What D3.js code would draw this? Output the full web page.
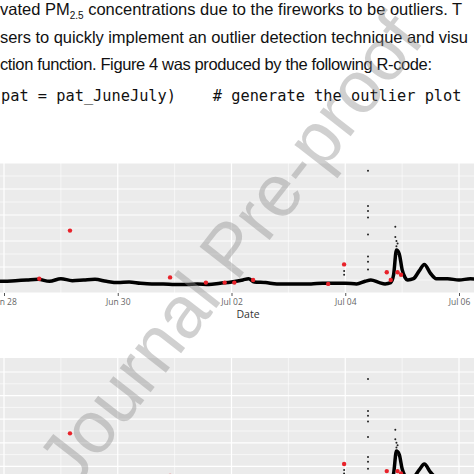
<!DOCTYPE html>
<html><head><meta charset="utf-8">
<script src="https://d3js.org/d3.v7.min.js"></script>
<style>body{margin:0;background:#fff}svg{display:block}</style></head>
<body><svg id="c" width="474" height="474"></svg>
<script>
// time in days since Jun 28 00:00, PM2.5 values
const seriesDays = [-0.2,0,0.2,0.4,0.6,0.8,1.0,1.2,1.4,1.6,1.8,2.0,2.2,2.4,2.6,2.8,3.0,3.2,3.4,3.6,3.8,4.0,4.2,4.3,4.4,4.6,4.8,5.0,5.2,5.4,5.6,5.8,6.0,6.2,6.35,6.45,6.6,6.7,6.8,6.85,6.9,6.95,7.0,7.05,7.1,7.2,7.3,7.39,7.5,7.6,7.8,8.0,8.2,8.4];
const seriesVals = [9,9,9.5,10,10.5,9,11,9.5,10,10.5,9,8,8.5,7.5,7,7,6.5,6.5,7,6.5,7.5,8.5,10,11,8.5,8,7,7,7,7,7.5,7.5,7.5,7,9,10,8,7,8,14,33,30,18,12,10,11,17,22,15,11,11,10,11,10];
const spikeDays = [6.4,6.4,6.4,6.4,6.4,6.4,6.4,6.4,6.88,6.88,6.9,6.9,6.92,6.92,5.98,5.98];
const spikeVals = [94,67,63,58,45,28,24,18,51,43,40,36,38,30,17,14];
const outDays = [1.16,0.62,2.92,3.55,3.88,4.05,4.38,5.7,5.98,6.73,6.8,6.92,6.98];
const outVals = [48,11,12,8,8,8,10,7,22,16,10,16,14];
const tickDays = [0,2,4,6,8];
const tickLabels = ["Jun 28","Jun 30","Jul 02","Jul 04","Jul 06"];
const textLines = ["vated PM","sers to quickly implement an outlier detection technique and visu","ction function. Figure 4 was produced by the following R-code:"];

const svg = d3.select("#c");
const x = d3.scaleLinear().domain([0,8]).range([4,459]);
const panels = [
  {top:163,bot:293,y:d3.scaleLinear().domain([0,100]).range([293,163]),axis:true},
  {top:358,bot:480,y:d3.scaleLinear().domain([0,100]).range([490,372]),axis:false}
];
const fs = "'Open Sans','Liberation Sans',sans-serif";

panels.forEach(p=>{
  const g = svg.append("g");
  g.append("rect").attr("x",0).attr("y",p.top).attr("width",474).attr("height",p.bot-p.top).attr("fill","#ebebeb");
  const cp = "cp"+p.top;
  svg.append("clipPath").attr("id",cp).append("rect").attr("x",0).attr("y",p.top).attr("width",474).attr("height",p.bot-p.top);
  const gg = g.append("g").attr("clip-path",`url(#${cp})`);
  d3.range(0,101,10).forEach((v,i)=>gg.append("line").attr("x1",0).attr("x2",474).attr("y1",p.y(v)).attr("y2",p.y(v)).attr("stroke","#fff").attr("stroke-width",i%2?0.6:1.2));
  d3.range(-1,9,1).forEach(d=>gg.append("line").attr("x1",x(d)).attr("x2",x(d)).attr("y1",p.top).attr("y2",p.bot).attr("stroke","#fff").attr("stroke-width",d%2?0.6:1.2));
  gg.append("path").datum(seriesDays.map((d,i)=>[d,seriesVals[i]]))
    .attr("d",d3.line().x(d=>x(d[0])).y(d=>p.y(d[1])).curve(d3.curveMonotoneX))
    .attr("fill","none").attr("stroke","#000").attr("stroke-width",3.5);
  gg.selectAll(null).data(spikeDays).join("circle").attr("cx",d=>x(d)).attr("cy",(d,i)=>p.y(spikeVals[i])).attr("r",1).attr("fill","#222");
  gg.selectAll(null).data(outDays).join("circle").attr("cx",d=>x(d)).attr("cy",(d,i)=>p.y(outVals[i])).attr("r",2.2).attr("fill","#e8222a");
  if(p.axis){
    const ax = g.append("g").attr("transform",`translate(0,${p.bot})`)
      .call(d3.axisBottom(x).tickValues(tickDays).tickFormat((d,i)=>tickLabels[i]).tickSize(3).tickPadding(3));
    ax.select(".domain").remove();
    ax.selectAll("line").attr("stroke","#555");
    ax.selectAll("text").attr("fill","#666").attr("font-size",8.5).attr("font-family",fs);
    g.append("text").attr("x",248).attr("y",318).attr("text-anchor","middle").attr("font-size",10.5).attr("fill","#333").attr("font-family",fs).text("Date");
  }
});

// paragraph text
const pf = "'Liberation Sans',sans-serif";
const t1 = svg.append("text").attr("x",0).attr("y",15).attr("font-size",16.5).attr("font-family",pf).attr("fill","#111");
t1.append("tspan").text(textLines[0]);
t1.append("tspan").attr("font-size",10).attr("dy",4).text("2.5");
t1.append("tspan").attr("dy",-4).text(" concentrations due to the fireworks to be outliers. T");
svg.append("text").attr("x",0).attr("y",43).attr("font-size",16.5).attr("font-family",pf).attr("fill","#111").attr("textLength",468).attr("lengthAdjust","spacing").text(textLines[1]);
svg.append("text").attr("x",0).attr("y",70).attr("font-size",16.5).attr("font-family",pf).attr("fill","#111").attr("textLength",432).attr("lengthAdjust","spacing").text(textLines[2]);
svg.append("text").attr("x",1).attr("y",101).attr("font-size",15.3).attr("font-family","'DejaVu Sans Mono',monospace").attr("fill","#111").attr("xml:space","preserve").text("pat = pat_JuneJuly)    # generate the outlier plot");

// watermark
svg.append("text").attr("transform","translate(250,265) rotate(-52)").attr("text-anchor","middle")
  .attr("font-size",74).attr("font-family","'Liberation Sans',sans-serif").attr("fill","#8c8c8c").attr("opacity",0.4)
  .text("Journal Pre-proof");
</script></body></html>
